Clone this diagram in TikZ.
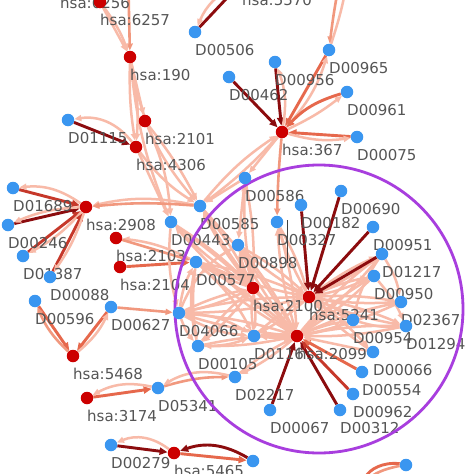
\documentclass[tikz,border=0pt]{standalone}
\usepackage{fontspec}
\newfontfamily\lblfont{DejaVu Sans}
\usetikzlibrary{arrows.meta}
\definecolor{nred}{RGB}{204,0,0}
\definecolor{nblue}{RGB}{58,150,240}
\definecolor{edk}{RGB}{140,12,14}
\definecolor{emk}{RGB}{198,56,42}
\definecolor{emd}{RGB}{230,104,76}
\definecolor{elm}{RGB}{241,152,126}
\definecolor{elt}{RGB}{248,186,168}
\definecolor{hlpurple}{RGB}{168,62,222}
\definecolor{tgray}{RGB}{85,85,85}
\pgfdeclarelayer{bg}
\pgfdeclarelayer{edges}
\pgfdeclarelayer{lbls}
\pgfsetlayers{bg,edges,lbls,main}
\tikzset{
  rn/.style={circle, fill=nred, draw=none, minimum size=12.5pt, inner sep=0pt},
  bn/.style={circle, fill=nblue, draw=none, minimum size=12.5pt, inner sep=0pt},
  lbl/.style={anchor=base west, inner sep=0pt, text=tgray, font=\lblfont\fontsize{15}{18}\selectfont},
  edbase/.style={line width=2.9pt, -{Triangle[length=8pt,width=7pt]}},
  dk/.style={edbase, draw=edk},
  mk/.style={edbase, draw=emk},
  md/.style={edbase, draw=emd},
  lm/.style={line width=2.6pt, draw=elm, -{Triangle[length=7pt,width=6pt]}},
  lt/.style={line width=2.5pt, draw=elt, -{Triangle[length=7pt,width=6pt]}},
}
\newcommand\mkred[4]{\node[rn] (#1) at (#2,#3) {};\begin{pgfonlayer}{lbls}\node[lbl] at (#2,#3+23) {#4};\end{pgfonlayer}}
\newcommand\mkblue[4]{\node[bn] (#1) at (#2,#3) {};\begin{pgfonlayer}{lbls}\node[lbl] at (#2,#3+23) {#4};\end{pgfonlayer}}
\begin{document}
\begin{tikzpicture}[x=1pt,y=-1pt]
\useasboundingbox (0,0) rectangle (474,474);
\begin{pgfonlayer}{bg}
\fill[white] (0,0) rectangle (474,474);
\end{pgfonlayer}
% highlight circle
\node[circle, draw=hlpurple, line width=2.8pt, minimum size=288pt, inner sep=0pt] (hl) at (319,309) {};
% red gene nodes
\mkred{r6256}{60}{-15}{hsa:6256}
\mkred{r6257}{100}{2}{hsa:6257}
\mkred{r5570}{242}{-18}{hsa:5570}
\mkred{r190}{130}{57}{hsa:190}
\mkred{r2101}{145}{121}{hsa:2101}
\mkred{r4306}{136}{147}{hsa:4306}
\mkred{r367}{282}{132}{hsa:367}
\mkred{r2908}{86}{207}{hsa:2908}
\mkred{r2103}{116}{238}{hsa:2103}
\mkred{r2104}{120}{267}{hsa:2104}
\mkred{r2100}{253}{288}{hsa:2100}
\mkred{r5241}{309}{297}{hsa:5241}
\mkred{r2099}{297}{336}{hsa:2099}
\mkred{r5468}{73}{356}{hsa:5468}
\mkred{r3174}{87}{398}{hsa:3174}
\mkred{r5465}{174}{453}{hsa:5465}
% blue drug nodes
\mkblue{d00506}{195}{32}{D00506}
\mkblue{d00965}{329}{50}{D00965}
\mkblue{d00956}{275}{62}{D00956}
\mkblue{d00462}{229}{77}{D00462}
\mkblue{d00961}{347}{92}{D00961}
\mkblue{d00075}{357}{137}{D00075}
\mkblue{d01115}{68}{120}{D01115}
\mkblue{d01689}{13}{188}{D01689}
\mkblue{d00246}{8}{225}{D00246}
\mkblue{d01387}{23}{256}{D01387}
\mkblue{d00088}{50}{277}{D00088}
\mkblue{d00596}{35}{301}{D00596}
\mkblue{d00627}{111}{307}{D00627}
\mkblue{d04066}{179}{313}{D04066}
\mkblue{d00577}{196}{262}{D00577}
\mkblue{d00898}{238}{245}{D00898}
\mkblue{d00443}{171}{222}{D00443}
\mkblue{d00585}{200}{206}{D00585}
\mkblue{d00586}{245}{178}{D00586}
\mkblue{d00327}{277}{222}{D00327}
\mkblue{d00182}{301}{205}{D00182}
\mkblue{d00690}{341}{191}{D00690}
\mkblue{d00951}{373}{227}{D00951}
\mkblue{d01217}{382}{254}{D01217}
\mkblue{d00950}{374}{276}{D00950}
\mkblue{d02367}{401}{302}{D02367}
\mkblue{d00954}{353}{320}{D00954}
\mkblue{d01294}{406}{326}{D01294}
\mkblue{d00066}{373}{352}{D00066}
\mkblue{d00554}{362}{372}{D00554}
\mkblue{d00962}{353}{394}{D00962}
\mkblue{d00312}{340}{410}{D00312}
\mkblue{d00067}{270}{410}{D00067}
\mkblue{d02217}{235}{377}{D02217}
\mkblue{d00105}{198}{346}{D00105}
\mkblue{d0116}{254}{336}{D0116}
\mkblue{d05341}{158}{388}{D05341}
\mkblue{d00279}{111}{445}{D00279}
\node[bn] (dbot) at (253,461) {};
\node[bn] (dbr) at (406,465) {};
\coordinate (ctop) at (350,-60);
\coordinate (ctopL) at (128,-30);
\coordinate (cbr) at (362,484);
\coordinate (tkA) at (287,220);
\coordinate (tkB) at (287,263);
\begin{pgfonlayer}{edges}
% top cluster
\draw[dk] (d00506) -- (r5570);
\draw[lt] (r5570) to[bend right=20] (d00506);
\draw[lm] (ctop) to[bend right=4] (d00965);
\draw[lt] (d00965) to[bend right=8] (ctop);
\draw[md] (d00965) -- (r367);
\draw[lt] (r367) to[bend right=12] (d00965);
\draw[dk] (d00956) -- (r367);
\draw[lt] (r367) to[bend right=15] (d00956);
\draw[dk] (d00462) -- (r367);
\draw[md] (d00961) to[bend right=15] (r367);
\draw[lt] (r367) to[bend right=6] (d00961);
\draw[md] (d00075) -- (r367);
\draw[lt] (r367) to[bend right=12] (d00075);
\draw[lt] (r367) -- (d00586);
\draw[lt] (r367) to[bend left=5] (d00585);
\draw[lt] (d00585) to[bend left=8] (r367);
\draw[lm] (r367) to[bend right=2] (d00327);
\draw[lt] (d00586) -- (d00585);
\draw[lt] (d00586) -- (d00898);
% upper left
\draw[lm] (ctopL) -- (r190);
\draw[lt] (r6257) -- (r190);
\draw[lt] (r6257) to[bend left=8] (r190);
\draw[lt] (r190) to[bend right=5] (r4306);
\draw[lt] (r190) to[bend left=8] (r4306);
\draw[lt] (r190) -- (r2101);
\draw[lt] (r190) to[bend right=15] (d00585);
\draw[lt] (r190) to[bend right=8] (d00443);
\draw[lt] (r2101) to[bend left=5] (d00585);
\draw[lt] (r4306) to[bend right=10] (d00585);
\draw[lt] (r4306) -- (d00443);
\draw[lt] (r2101) to[bend left=10] (d00443);
\draw[dk] (d01115) -- (r4306);
\draw[lt] (r4306) to[bend right=30] (d01115);
\draw[lt] (d00585) to[bend right=12] (r2908);
\draw[lm] (d00585) to[bend right=5] (r2908);
% hsa:2908 cluster
\draw[mk] (d01689) -- (r2908);
\draw[lt] (r2908) to[bend right=20] (d01689);
\draw[dk] (d00246) -- (r2908);
\draw[lt] (r2908) to[bend right=10] (d00246);
\draw[mk] (d01387) -- (r2908);
\draw[lt] (r2908) to[bend left=10] (d01387);
\draw[mk] (d00088) -- (r2908);
\draw[lt] (r2908) to[bend left=8] (d00088);
% hsa:2103 / 2104
\draw[md] (r2104) -- (d00577);
\draw[lt] (d00577) to[bend right=10] (r2103);
\draw[lm] (r2103) -- (d00577);
% bottom left
\draw[md] (d00596) -- (r5468);
\draw[lm] (r5468) to[bend left=12] (d00596);
\draw[md] (d00627) -- (r5468);
\draw[lt] (r5468) to[bend right=12] (d00627);
\draw[lm] (d00627) -- (d04066);
\draw[md] (r3174) -- (d05341);
\draw[lt] (d05341) to[bend right=20] (r3174);
\draw[lm] (d05341) to[bend left=8] (d02217);
\draw[lt] (d02217) to[bend right=22] (d05341);
% bottom
\draw[dk] (d00279) -- (r5465);
\draw[lt] (r5465) to[bend right=30] (d00279);
\draw[dk] (dbot) to[bend right=25] (r5465);
\draw[md] (r5465) -- (dbot);
\draw[md] (dbr) to[bend right=35] (cbr);
\draw[lm] (dbr) to[bend right=15] (cbr);
% circle mesh
\foreach \a in {d00898,d00577,d04066,d00105,d0116,d00327,d00950,d02367,d00954,d01294,d01217,d00443,d00585,d02217}{
  \draw[lt] (r2099) to[bend left=6] (\a);
  \draw[lt] (\a) to[bend left=6] (r2099);
}
\foreach \a in {d00950,d02367,d00954,d01294,d01217,d00577,d04066,d0116,d00898,d00066,d00327}{
  \draw[lt] (r5241) to[bend left=6] (\a);
  \draw[lt] (\a) to[bend left=6] (r5241);
}
\foreach \a in {d00577,d04066,d00105,d00898,d0116,d00443,d00585,d00586}{
  \draw[lt] (r2100) to[bend left=6] (\a);
  \draw[lt] (\a) to[bend left=6] (r2100);
}
\draw[lt] (d04066) to[bend left=10] (d00577);
\draw[lt] (d04066) to[bend right=12] (d0116);
\draw[lt] (d04066) to[bend left=14] (d0116);
\draw[lt] (d00577) to[bend left=10] (d0116);
\draw[lt] (d00105) to[bend right=10] (d0116);
\draw[lt] (d04066) to[bend right=10] (d00105);
\draw[lt] (d00577) to[bend right=8] (d00105);
\draw[lt] (d00443) to[bend right=10] (d04066);
\draw[lt] (d04066) to[bend left=18] (d00898);
\draw[lt] (d00105) to[bend left=12] (d00577);
\draw[lt] (d01217) to[bend left=10] (d02367);
\draw[lt] (d00950) to[bend left=8] (d01294);
\draw[lt] (d00954) to[bend right=10] (d01294);
\draw[lt] (d01217) to[bend right=10] (d00954);
\draw[dk] (d00182) -- (r5241);
\draw[dk] (d00690) -- (r5241);
\draw[dk] (d00951) -- (r5241);
\draw[dk] (d01217) -- (r5241);
\draw[dk] (d00067) -- (r2099);
\draw[dk] (d00312) -- (r2099);
\draw[mk] (d00962) -- (r2099);
\draw[md] (d00554) -- (r2099);
\draw[lt] (d00066) -- (r2099);
\draw[black!75, line width=0.7pt] (tkA) -- (tkB);
\end{pgfonlayer}
\end{tikzpicture}
\end{document}
